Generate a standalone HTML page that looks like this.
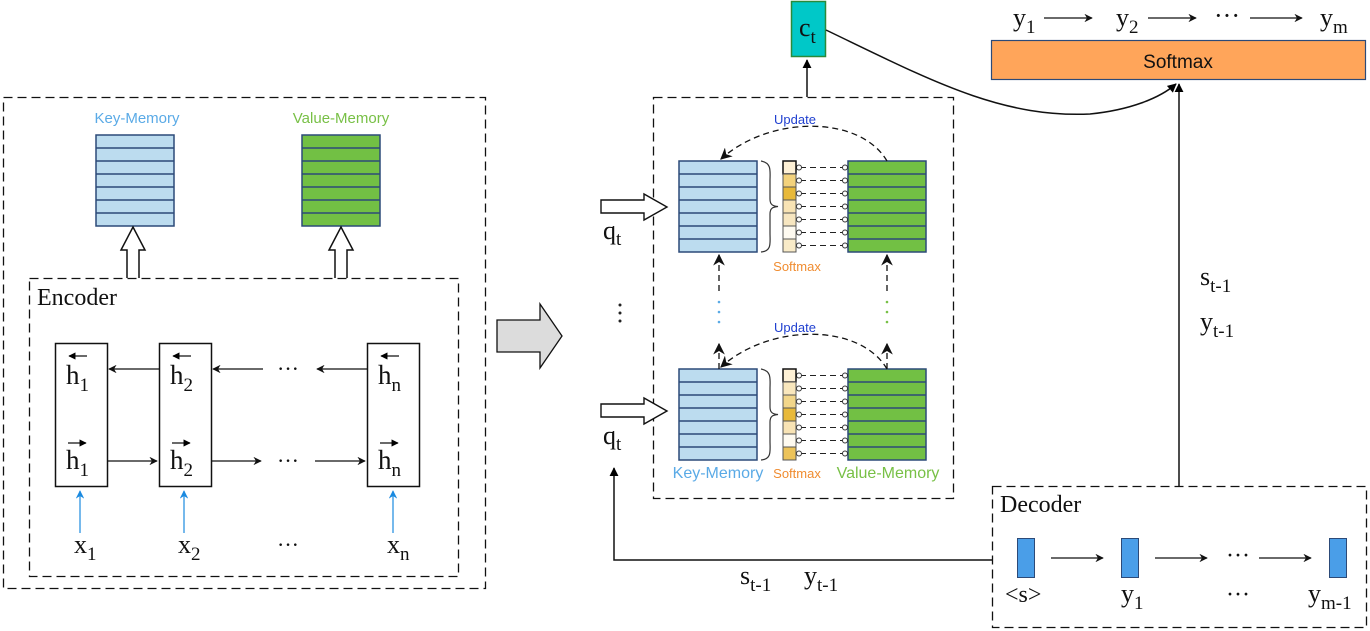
<!DOCTYPE html>
<html><head><meta charset="utf-8"><style>
html,body{margin:0;padding:0;background:#fff;}
svg{display:block}
.m{font-family:"Liberation Serif",serif;fill:#111}
.s{font-family:"Liberation Sans",sans-serif}
</style></head><body>
<svg width="1370" height="631" viewBox="0 0 1370 631" xmlns="http://www.w3.org/2000/svg">
<defs>
<marker id="a" viewBox="0 0 10 10" refX="9" refY="5" markerWidth="7" markerHeight="7" orient="auto"><path d="M0,0 L10,5 L0,10 L3,5z" fill="#111"/></marker>
<marker id="ab" viewBox="0 0 10 10" refX="9" refY="5" markerWidth="7" markerHeight="7" orient="auto"><path d="M0,0 L10,5 L0,10 L3,5z" fill="#1a8ae0"/></marker>
<marker id="af" viewBox="0 0 10 10" refX="9" refY="5" markerWidth="6" markerHeight="6" orient="auto"><path d="M0,0 L10,5 L0,10z" fill="#000"/></marker>
<marker id="ad" viewBox="0 0 10 10" refX="9" refY="5" markerWidth="9" markerHeight="9" orient="auto"><path d="M0,0 L10,5 L0,10 L3,5z" fill="#111"/></marker>
<g id="km"><rect x="0" y="0" width="78" height="91" fill="#bcdcef" stroke="#2c4a78" stroke-width="1.5"/>
<path d="M0,13H78M0,26H78M0,39H78M0,52H78M0,65H78M0,78H78" stroke="#2c4a78" stroke-width="1.5"/></g>
<g id="vm"><rect x="0" y="0" width="78" height="91" fill="#72c044" stroke="#2c4a78" stroke-width="1.5"/>
<path d="M0,13H78M0,26H78M0,39H78M0,52H78M0,65H78M0,78H78" stroke="#2c4a78" stroke-width="1.5"/></g>
<g id="dl">
<g stroke="#222" stroke-dasharray="6,4" stroke-width="1">
<path d="M800,6.5H850M800,19.5H850M800,32.5H850M800,45.5H850M800,58.5H850M800,71.5H850M800,84.5H850"/>
</g>
<g fill="#fff" stroke="#333" stroke-width="1">
<circle cx="799" cy="6.5" r="2.5"/><circle cx="799" cy="19.5" r="2.5"/><circle cx="799" cy="32.5" r="2.5"/><circle cx="799" cy="45.5" r="2.5"/><circle cx="799" cy="58.5" r="2.5"/><circle cx="799" cy="71.5" r="2.5"/><circle cx="799" cy="84.5" r="2.5"/>
<circle cx="845" cy="6.5" r="2.5"/><circle cx="845" cy="19.5" r="2.5"/><circle cx="845" cy="32.5" r="2.5"/><circle cx="845" cy="45.5" r="2.5"/><circle cx="845" cy="58.5" r="2.5"/><circle cx="845" cy="71.5" r="2.5"/><circle cx="845" cy="84.5" r="2.5"/>
</g>
<path d="M761,0 C772,2 770,10 770,20 L770,38 C770,44 773,45 778,45.5 C773,46 770,47 770,53 L770,72 C770,82 772,90 761,91" fill="none" stroke="#333" stroke-width="1.2"/>
</g>
</defs>

<!-- LEFT -->
<rect x="3.5" y="97.5" width="482" height="491" fill="none" stroke="#111" stroke-dasharray="9,5" stroke-width="1.3"/>
<text x="137" y="123" class="s" font-size="15" fill="#5aaae6" text-anchor="middle">Key-Memory</text>
<text x="341" y="123" class="s" font-size="15" fill="#78c046" text-anchor="middle">Value-Memory</text>
<use href="#km" x="96" y="135"/>
<use href="#vm" x="302" y="135"/>
<path d="M127,278 V250 H121 L133,227 L145,250 H139 V278" fill="#fff" stroke="#111" stroke-width="1.5"/>
<path d="M335,278 V250 H329 L341,227 L353,250 H347 V278" fill="#fff" stroke="#111" stroke-width="1.5"/>
<rect x="29.5" y="278.5" width="429" height="298" fill="none" stroke="#111" stroke-dasharray="9,5" stroke-width="1.3"/>
<text x="37" y="305" class="m" font-size="24">Encoder</text>
<g fill="#fff" stroke="#111" stroke-width="1.5">
<rect x="55.5" y="343.5" width="52" height="143"/><rect x="159.5" y="343.5" width="52" height="143"/><rect x="367.5" y="343.5" width="52" height="143"/></g>
<g class="m" font-size="27">
<text x="66" y="384">h<tspan font-size="19" dy="7">1</tspan></text>
<text x="170" y="384">h<tspan font-size="19" dy="7">2</tspan></text>
<text x="378" y="384">h<tspan font-size="19" dy="7">n</tspan></text>
<text x="66" y="469">h<tspan font-size="19" dy="7">1</tspan></text>
<text x="170" y="469">h<tspan font-size="19" dy="7">2</tspan></text>
<text x="378" y="469">h<tspan font-size="19" dy="7">n</tspan></text>
</g>
<g stroke="#111" stroke-width="1.2">
<path d="M87,356H69" marker-end="url(#af)"/><path d="M191,356H173" marker-end="url(#af)"/><path d="M399,356H381" marker-end="url(#af)"/>
<path d="M68,443H86" marker-end="url(#af)"/><path d="M172,443H190" marker-end="url(#af)"/><path d="M380,443H398" marker-end="url(#af)"/>
<path d="M159,369H109" marker-end="url(#a)"/><path d="M263,369H213" marker-end="url(#a)"/><path d="M367,369H317" marker-end="url(#a)"/>
<path d="M107,461H157" marker-end="url(#a)"/><path d="M211,461H261" marker-end="url(#a)"/><path d="M315,461H365" marker-end="url(#a)"/>
</g>
<g class="m" font-size="22"><text x="277" y="376">···</text><text x="277" y="468">···</text><text x="277" y="552">···</text></g>
<g stroke="#1a8ae0" stroke-width="1.2">
<path d="M80,533V491" marker-end="url(#ab)"/><path d="M184,533V491" marker-end="url(#ab)"/><path d="M393,533V491" marker-end="url(#ab)"/></g>
<g class="m" font-size="26">
<text x="74" y="553">x<tspan font-size="19" dy="7">1</tspan></text>
<text x="178" y="553">x<tspan font-size="19" dy="7">2</tspan></text>
<text x="387" y="553">x<tspan font-size="19" dy="7">n</tspan></text></g>

<!-- big gray arrow -->
<path d="M497,320 H540 V304 L562,336 L540,368 V352 H497 Z" fill="#dcdcdc" stroke="#111" stroke-width="1.3"/>

<!-- MIDDLE -->
<rect x="653.5" y="97.5" width="300" height="401" fill="none" stroke="#111" stroke-dasharray="9,5" stroke-width="1.3"/>
<path d="M601,200 H644 V194 L667,207 L644,220 V213 H601 Z" fill="#fff" stroke="#111" stroke-width="1.4"/>
<path d="M601,404 H644 V398 L667,411 L644,424 V417 H601 Z" fill="#fff" stroke="#111" stroke-width="1.4"/>
<text x="603" y="239" class="m" font-size="26">q<tspan font-size="19" dy="6">t</tspan></text>
<text x="603" y="444" class="m" font-size="26">q<tspan font-size="19" dy="6">t</tspan></text>
<g fill="#222"><circle cx="620" cy="305" r="1.5"/><circle cx="620" cy="313" r="1.5"/><circle cx="620" cy="321" r="1.5"/></g>

<use href="#km" x="679" y="161"/><use href="#vm" x="848" y="161"/>
<use href="#km" x="679" y="369"/><use href="#vm" x="848" y="369"/>
<use href="#dl" x="0" y="161"/>
<use href="#dl" x="0" y="369"/>
<g stroke="#555" stroke-width="1">
<rect x="783" y="161" width="13" height="13" fill="#fdf0d5" stroke="#111" stroke-width="1.5"/>
<rect x="783" y="174" width="13" height="13" fill="#f3d27c"/><rect x="783" y="187" width="13" height="13" fill="#e8b93a"/>
<rect x="783" y="200" width="13" height="13" fill="#f8e3b4"/><rect x="783" y="213" width="13" height="13" fill="#f7e6c0"/>
<rect x="783" y="226" width="13" height="13" fill="#fefaf0"/><rect x="783" y="239" width="13" height="13" fill="#f9ebc8"/>
<rect x="783" y="369" width="13" height="13" fill="#fdf0d5" stroke="#111" stroke-width="1.5"/>
<rect x="783" y="382" width="13" height="13" fill="#f9e7bd"/><rect x="783" y="395" width="13" height="13" fill="#f2d68a"/>
<rect x="783" y="408" width="13" height="13" fill="#e8b93a"/><rect x="783" y="421" width="13" height="13" fill="#f8e3b4"/>
<rect x="783" y="434" width="13" height="13" fill="#fefaf0"/><rect x="783" y="447" width="13" height="13" fill="#ecc35a"/>
</g>
<text x="797" y="271" class="s" font-size="13" fill="#f08c30" text-anchor="middle">Softmax</text>
<text x="797" y="478" class="s" font-size="13" fill="#f08c30" text-anchor="middle">Softmax</text>
<text x="718" y="478" class="s" font-size="16" fill="#5aaae6" text-anchor="middle">Key-Memory</text>
<text x="888" y="478" class="s" font-size="16" fill="#78c046" text-anchor="middle">Value-Memory</text>
<text x="795" y="124" class="s" font-size="13" fill="#2040d0" text-anchor="middle">Update</text>
<text x="795" y="332" class="s" font-size="13" fill="#2040d0" text-anchor="middle">Update</text>
<g fill="none" stroke="#111" stroke-width="1.3" stroke-dasharray="6,4">
<path d="M887,161 C860,115 770,115 721,159" marker-end="url(#ad)"/>
<path d="M887,369 C860,323 770,323 721,367" marker-end="url(#ad)"/>
<path d="M719,369 V344" marker-end="url(#ad)"/>
<path d="M719,291 V255" marker-end="url(#ad)"/>
<path d="M887,369 V344" marker-end="url(#ad)"/>
<path d="M887,291 V255" marker-end="url(#ad)"/>
</g>
<g fill="#5aaae6"><circle cx="719" cy="302" r="1.3"/><circle cx="719" cy="312" r="1.3"/><circle cx="719" cy="322" r="1.3"/></g>
<g fill="#78c046"><circle cx="887" cy="302" r="1.3"/><circle cx="887" cy="312" r="1.3"/><circle cx="887" cy="322" r="1.3"/></g>

<!-- ct -->
<rect x="791.5" y="1.5" width="34" height="55" fill="#00c8c8" stroke="#2a8a3a" stroke-width="1.5"/>
<text x="799" y="36" class="m" font-size="26">c<tspan font-size="19" dy="7">t</tspan></text>
<path d="M807,97 V60" stroke="#111" stroke-width="1.5" marker-end="url(#af)"/>
<path d="M826,30 C930,80 1000,118 1090,114 C1130,110 1160,98 1176,84" fill="none" stroke="#111" stroke-width="1.5" marker-end="url(#af)"/>

<!-- RIGHT -->
<g class="m" font-size="26">
<text x="1013" y="26">y<tspan font-size="19" dy="7">1</tspan></text>
<text x="1116" y="26">y<tspan font-size="19" dy="7">2</tspan></text>
<text x="1214" y="24">···</text>
<text x="1320" y="26">y<tspan font-size="19" dy="7">m</tspan></text></g>
<g stroke="#111" stroke-width="1.2">
<path d="M1044,18H1092" marker-end="url(#a)"/><path d="M1148,18H1196" marker-end="url(#a)"/><path d="M1250,18H1302" marker-end="url(#a)"/></g>
<rect x="991.5" y="40.5" width="374" height="39" fill="#ffa55a" stroke="#2c4a78" stroke-width="1.2"/>
<text x="1178" y="68" class="s" font-size="19" fill="#111" text-anchor="middle">Softmax</text>
<path d="M1179,486 V84" stroke="#111" stroke-width="1.5" marker-end="url(#af)"/>
<text x="1200" y="285" class="m" font-size="26">s<tspan font-size="19" dy="7">t-1</tspan></text>
<text x="1200" y="330" class="m" font-size="26">y<tspan font-size="19" dy="7">t-1</tspan></text>

<rect x="992.5" y="486.5" width="374" height="141" fill="none" stroke="#111" stroke-dasharray="9,5" stroke-width="1.3"/>
<text x="1000" y="512" class="m" font-size="24">Decoder</text>
<g fill="#4a9ee8" stroke="#2c4a78" stroke-width="1"><rect x="1017.5" y="538.5" width="17" height="39"/><rect x="1121.5" y="538.5" width="17" height="39"/><rect x="1329.5" y="538.5" width="17" height="39"/></g>
<g stroke="#111" stroke-width="1.2">
<path d="M1051,558H1103" marker-end="url(#a)"/><path d="M1155,558H1207" marker-end="url(#a)"/><path d="M1259,558H1311" marker-end="url(#a)"/></g>
<g class="m" font-size="24">
<text x="1226" y="563">···</text>
<text x="1005" y="602">&lt;s&gt;</text>
<text x="1121" y="602" font-size="26">y<tspan font-size="19" dy="7">1</tspan></text>
<text x="1226" y="602">···</text>
<text x="1308" y="602" font-size="26">y<tspan font-size="19" dy="7">m-1</tspan></text></g>
<path d="M992,560 H614 V468" fill="none" stroke="#111" stroke-width="1.5" marker-end="url(#af)"/>
<g class="m" font-size="26">
<text x="740" y="584">s<tspan font-size="19" dy="7">t-1</tspan></text>
<text x="804" y="584">y<tspan font-size="19" dy="7">t-1</tspan></text></g>
</svg>
</body></html>
